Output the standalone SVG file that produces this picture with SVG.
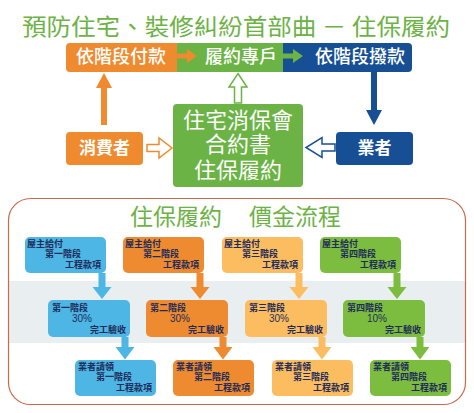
<svg xmlns="http://www.w3.org/2000/svg" width="474" height="413" viewBox="0 0 474 413">
<style>
text{font-family:"Noto Sans CJK TC","Noto Sans CJK SC",sans-serif}
.title{fill:#6cb245;font-size:23px}
.bar{fill:#fff;font-size:18px;font-weight:500;text-anchor:middle}
.box{fill:#fff;font-size:17px;font-weight:700;text-anchor:middle}
.ctr{fill:#fff;font-size:22px;text-anchor:middle}
.c{font-size:9px;font-weight:700;fill:#1f2c5a}
.p{font-size:10px;fill:#1f2c5a;font-family:"Liberation Sans",sans-serif}
.blue{fill:#4db6e4}.orange{fill:#ee8a2f}.yellow{fill:#fbbd5f}.green{fill:#7cbd3f}
</style>
<rect width="474" height="413" fill="#fff"/>
<text class="title" x="22" y="34.5" textLength="428" lengthAdjust="spacingAndGlyphs">預防住宅、裝修糾紛首部曲 － 住保履約</text>

<g id="bar-pay">
<rect x="66" y="43" width="119" height="29" rx="4" fill="#ef8a2e"/>
</g>
<g id="bar-disburse">
<rect x="275" y="43" width="137" height="29" rx="4" fill="#174f94"/>
<text class="bar" x="360" y="63">依階段撥款</text>
</g>
<g id="bar-account">
<rect x="177" y="43" width="106" height="29" fill="#6ab344"/>
<text class="bar" x="241" y="63">履約專戶</text>
</g>
<text class="bar" x="121" y="63">依階段付款</text>

<g id="consumer">
<rect x="66" y="132" width="77" height="33" rx="4" fill="#ef8a2e"/>
<text class="box" x="104.5" y="154">消費者</text>
</g>
<g id="contract">
<rect x="173" y="104" width="130" height="83" rx="4" fill="#6ab344"/>
<text class="ctr" x="238" y="128">住宅消保會</text>
<text class="ctr" x="238" y="152">合約書</text>
<text class="ctr" x="238" y="178">住保履約</text>
</g>
<g id="contractor">
<rect x="336" y="132" width="77" height="33" rx="4" fill="#174f94"/>
<text class="box" x="374.5" y="154">業者</text>
</g>

<g id="connectors">
<polygon points="176,53.5 187,53.5 187,49 197,56 187,63 187,58.5 176,58.5" fill="#ef8a2e"/>
<polygon points="283,53.5 293,53.5 293,49 303,56 293,63 293,58.5 283,58.5" fill="#6ab344"/>
<polygon points="104,73 112,88 107,88 107,125 101,125 101,88 96,88" fill="#ef8a2e"/>
<polygon points="238,73.5 247,87 241.5,87 241.5,103 234.5,103 234.5,87 229,87" fill="#fff" stroke="#6ab344" stroke-width="1.5"/>
<polygon points="374,125 382,110 377,110 377,72 371,72 371,110 366,110" fill="#174f94"/>
<polygon points="147,144.5 159,144.5 159,138 172,148 159,158 159,151.5 147,151.5" fill="#fff" stroke="#ef8a2e" stroke-width="1.5"/>
<polygon points="335,144 322,144 322,137.5 306,147.5 322,157.5 322,151 335,151" fill="#fff" stroke="#174f94" stroke-width="1.5"/>
</g>

<g id="panel">
<rect x="8.5" y="198.5" width="457" height="206" rx="22" fill="#fff"/>
<rect x="9" y="281" width="456" height="62" fill="#e9eef0"/>
<rect x="8.5" y="198.5" width="457" height="206" rx="22" fill="none" stroke="#c9694b" stroke-width="1.2"/>
<text class="title" x="130" y="225" font-size="23">住保履約</text>
<text class="title" x="249" y="225" font-size="23">價金流程</text>
</g>

<g id="flow-connectors">
<path class="blue" d="M98.5,273h7v14h6l-9.5,12l-9.5,-12h6z"/>
<path class="blue" d="M121.5,337h7v10h6l-9.5,12.5l-9.5,-12.5h6z"/>
<path class="orange" d="M196.5,273h7v14h6l-9.5,12l-9.5,-12h6z"/>
<path class="orange" d="M219.5,337h7v10h6l-9.5,12.5l-9.5,-12.5h6z"/>
<path class="yellow" d="M295.5,273h7v14h6l-9.5,12l-9.5,-12h6z"/>
<path class="yellow" d="M318.5,337h7v10h6l-9.5,12.5l-9.5,-12.5h6z"/>
<path class="green" d="M393.5,273h7v14h6l-9.5,12l-9.5,-12h6z"/>
<path class="green" d="M416.5,337h7v10h6l-9.5,12.5l-9.5,-12.5h6z"/>
</g>

<g id="owner-pay-1"><rect class="blue" x="25" y="237" width="81" height="36" rx="5"/>
<text class="c" x="27" y="247">屋主給付</text><text class="c" x="45" y="257">第一階段</text><text class="c" x="65" y="268">工程款項</text></g>
<g id="owner-pay-2"><rect class="orange" x="123" y="237" width="81" height="36" rx="5"/>
<text class="c" x="125" y="247">屋主給付</text><text class="c" x="143" y="257">第二階段</text><text class="c" x="163" y="268">工程款項</text></g>
<g id="owner-pay-3"><rect class="yellow" x="222" y="237" width="81" height="36" rx="5"/>
<text class="c" x="224" y="247">屋主給付</text><text class="c" x="242" y="257">第三階段</text><text class="c" x="262" y="268">工程款項</text></g>
<g id="owner-pay-4"><rect class="green" x="320" y="237" width="81" height="36" rx="5"/>
<text class="c" x="322" y="247">屋主給付</text><text class="c" x="340" y="257">第四階段</text><text class="c" x="360" y="268">工程款項</text></g>

<g id="stage-1"><rect class="blue" x="48" y="300" width="82" height="37" rx="5"/>
<text class="c" x="52" y="311">第一階段</text><text class="p" x="72" y="322">30%</text><text class="c" x="90" y="333">完工驗收</text></g>
<g id="stage-2"><rect class="orange" x="146" y="300" width="82" height="37" rx="5"/>
<text class="c" x="150" y="311">第二階段</text><text class="p" x="170" y="322">30%</text><text class="c" x="188" y="333">完工驗收</text></g>
<g id="stage-3"><rect class="yellow" x="245" y="300" width="82" height="37" rx="5"/>
<text class="c" x="249" y="311">第三階段</text><text class="p" x="269" y="322">30%</text><text class="c" x="287" y="333">完工驗收</text></g>
<g id="stage-4"><rect class="green" x="343" y="300" width="82" height="37" rx="5"/>
<text class="c" x="347" y="311">第四階段</text><text class="p" x="367" y="322">10%</text><text class="c" x="385" y="333">完工驗收</text></g>

<g id="claim-1"><rect class="blue" x="75" y="360" width="81" height="36" rx="5"/>
<text class="c" x="78" y="370">業者請領</text><text class="c" x="96" y="380">第一階段</text><text class="c" x="116" y="391">工程款項</text></g>
<g id="claim-2"><rect class="orange" x="173" y="360" width="81" height="36" rx="5"/>
<text class="c" x="176" y="370">業者請領</text><text class="c" x="194" y="380">第二階段</text><text class="c" x="214" y="391">工程款項</text></g>
<g id="claim-3"><rect class="yellow" x="272" y="360" width="81" height="36" rx="5"/>
<text class="c" x="275" y="370">業者請領</text><text class="c" x="293" y="380">第三階段</text><text class="c" x="313" y="391">工程款項</text></g>
<g id="claim-4"><rect class="green" x="370" y="360" width="81" height="36" rx="5"/>
<text class="c" x="373" y="370">業者請領</text><text class="c" x="391" y="380">第四階段</text><text class="c" x="411" y="391">工程款項</text></g>
</svg>
